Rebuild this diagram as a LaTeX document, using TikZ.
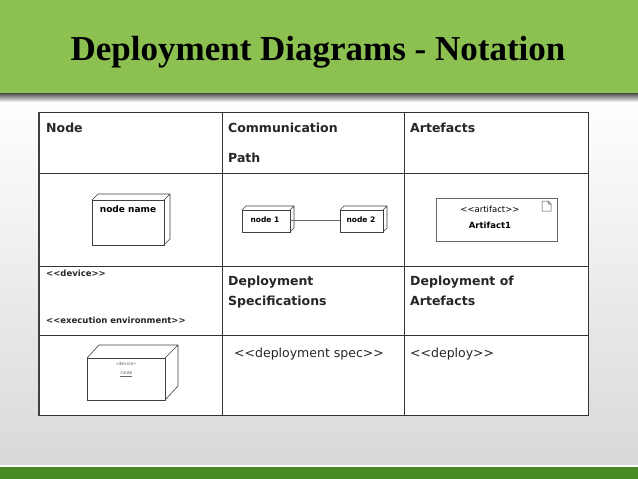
\documentclass[tikz,border=0pt]{standalone}
\usepackage{fontspec}
\setmainfont{Liberation Serif}
\newfontfamily\cellfont{DejaVu Sans}
\definecolor{bannergreen}{HTML}{8CC152}
\definecolor{footgreen}{HTML}{4A8A25}
\begin{document}
\begin{tikzpicture}[x=1pt,y=-1pt,
  lbl/.style={anchor=base west,font=\cellfont\bfseries\fontsize{12.5}{14}\selectfont,inner sep=0pt,text=black!85},
  small/.style={anchor=base west,font=\cellfont\bfseries\fontsize{8.5}{9}\selectfont,inner sep=0pt,text=black!85},
  box/.style={draw=black!75,line width=0.6pt}]
\useasboundingbox (0,0) rectangle (638,479);
\shade[top color=white,bottom color=black!15] (0,97) rectangle (638,466);
\fill[bannergreen] (0,0) rectangle (638,97);
\shade[top color=black!70,bottom color=black!10] (0,93) rectangle (638,101);
\fill[footgreen] (0,467) rectangle (638,479);
\fill[white] (0,465) rectangle (638,467);
\node[font=\bfseries\fontsize{35}{38}\selectfont] (title) at (318,52) {Deployment Diagrams - Notation};
% table
\fill[white] (38,112) rectangle (588,415);
\draw[line width=0.8pt,black!80] (38,112) rectangle (588,415);
\draw[line width=2.5pt,black!75] (39,112) -- (39,415);
\foreach \y in {173,266,335} \draw[line width=0.8pt,black!80] (38,\y) -- (588,\y);
\foreach \x in {222,404} \draw[line width=0.8pt,black!80] (\x,112) -- (\x,415);
\node[lbl] (t1) at (46,132) {Node};
\node[lbl] (t2) at (228,132) {Communication};
\node[lbl] (t3) at (228,162) {Path};
\node[lbl] (t4) at (410,132) {Artefacts};
\node[small] (t5) at (46,276) {<<device>{}>};
\node[small] (t6) at (46,323) {<<execution environment>{}>};
\node[lbl] (t7) at (228,285) {Deployment};
\node[lbl] (t8) at (228,305) {Specifications};
\node[lbl] (t9) at (410,285) {Deployment of};
\node[lbl] (t10) at (410,305) {Artefacts};
\node[lbl,font=\cellfont\fontsize{12.5}{14}\selectfont] (t11) at (234,357) {<<deployment spec>{}>};
\node[lbl,font=\cellfont\fontsize{12.5}{14}\selectfont] (t12) at (410,357) {<<deploy>{}>};
% node name
\draw[box] (92,200) rectangle (164,245);
\draw[box] (92,200) -- (98,194) -- (170,194) -- (170,239) -- (164,245) (164,200) -- (170,194);
\node[anchor=north,font=\cellfont\bfseries\fontsize{9}{10}\selectfont] (nn) at (128,202) {node name};
% node 1 / node 2
\draw[box] (242,210) rectangle (290,232);
\draw[box] (242,210) -- (246,206) -- (294,206) -- (294,228) -- (290,232) (290,210) -- (294,206);
\node[font=\cellfont\bfseries\fontsize{7.5}{8}\selectfont] (n1) at (265,220) {node 1};
\draw[box] (340,210) rectangle (383,232);
\draw[box] (340,210) -- (344,206) -- (387,206) -- (387,228) -- (383,232) (383,210) -- (387,206);
\node[font=\cellfont\bfseries\fontsize{7.5}{8}\selectfont] (n2) at (361,220) {node 2};
\coordinate (c1) at (290,220); \coordinate (c2) at (340,220);
\draw[black!60,line width=0.5pt] (c1) -- (c2);
% artifact
\draw[box,black!60] (436,198) rectangle (557,241);
\node[font=\cellfont\fontsize{8.5}{9}\selectfont] (a1) at (490,209) {<<artifact>{}>};
\node[font=\cellfont\bfseries\fontsize{8.5}{9}\selectfont] (a2) at (490,225) {Artifact1};
\draw[black!70,line width=0.5pt] (542,201) -- (548,201) -- (551,204) -- (551,211) -- (542,211) -- cycle (548,201) -- (548,204) -- (551,204);
% device node
\draw[box] (87,358) rectangle (165,400);
\draw[box] (87,358) -- (99,345) -- (178,345) -- (178,386) -- (165,400) (165,358) -- (178,345);
\node[font=\cellfont\fontsize{4.5}{5}\selectfont,text=black!60] (d1) at (126,364) {«device»};
\node[font=\cellfont\fontsize{4.5}{5}\selectfont,text=black!60] (d2) at (126,374) {\underline{:node}};
\end{tikzpicture}
\end{document}
